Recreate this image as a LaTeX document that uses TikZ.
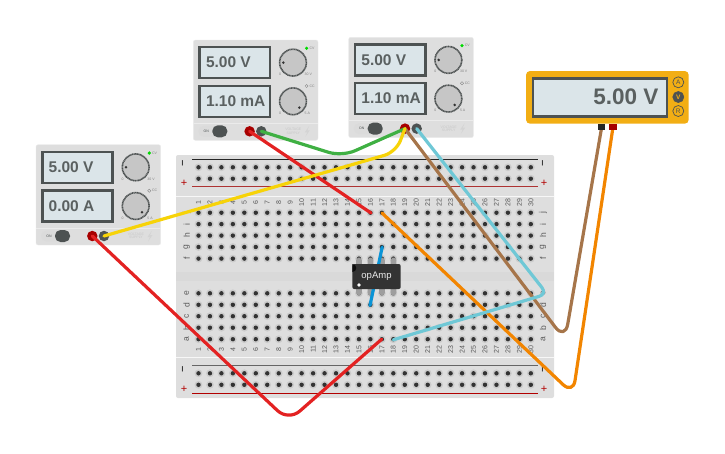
\documentclass[tikz,border=0pt]{standalone}
\usepackage{fontspec}
\setmainfont{Liberation Sans}
\newfontfamily\lcdfont{Liberation Sans Bold}
\definecolor{panel}{HTML}{DEDEDE}
\definecolor{lcd}{HTML}{DBE5E9}
\definecolor{dark}{HTML}{4D5252}
\definecolor{lcdink}{HTML}{5A6060}
\definecolor{halo}{HTML}{CBCBCB}
\definecolor{hole}{HTML}{333333}
\definecolor{knobfill}{HTML}{C6C6C6}
\definecolor{wred}{HTML}{E32222}
\definecolor{wyellow}{HTML}{F7D308}
\definecolor{wgreen}{HTML}{3FB043}
\definecolor{wbrown}{HTML}{A6754A}
\definecolor{wcyan}{HTML}{6FC8D6}
\definecolor{worange}{HTML}{F28500}
\definecolor{wblue}{HTML}{0A94D6}
\definecolor{amber}{HTML}{F2AE14}
\tikzset{
  wire/.style={line width=3.2pt,line cap=round,line join=round},
  lcdbox/.style={draw=dark,line width=2.6pt,fill=lcd,minimum width=70.5pt,minimum height=31pt,inner sep=0pt},
  lcdtext/.style={text=lcdink,font=\lcdfont\fontsize{15.5}{16}\selectfont,inner sep=0pt,anchor=west},
  tiny/.style={text=gray,font=\fontsize{3.5}{4}\selectfont,inner sep=0pt},
  terminal/.style={circle,minimum size=10.5pt,inner sep=0pt},
  blab/.style={text=black!65,font=\fontsize{7}{7}\selectfont,inner sep=0pt,rotate=90},
  railsign/.style={inner sep=0pt,font=\fontsize{11}{11}\selectfont},
  pin/.style={fill=black!38},
}
\newcommand{\knob}[4]{% x y dotx doty
  \fill[knobfill] (#1,#2) circle (13.8);
  \draw[dark,line width=1.6pt,dash pattern=on 1.1pt off .5pt] (#1,#2) circle (13.4);
  \fill[hole] (#3,#4) circle (1.4);
}
\newcommand{\supply}[4]{% name dx dy second-line
  \begin{scope}[shift={(#2,#3)}]
    \fill[panel,rounded corners=2pt,draw=black!8] (36,144.7) rectangle (160.7,245);
    \draw[black!8,line width=.7pt] (36,228) -- (160.7,228);
    \node[lcdbox] (#1a) at (77.5,167.3) {};
    \node[lcdbox] (#1b) at (77.5,206) {};
    \node[lcdtext] (#1at) at (48.5,167.3) {5.00 V};
    \node[lcdtext] (#1bt) at (48.5,206) {#4};
    \knob{135.7}{167.3}{126}{167.3}
    \knob{135.7}{206}{142}{212.3}
    \node[tiny] (#1t0) at (122.7,179) {0};
    \node[tiny] (#1t1) at (151,179) {30 V};
    \node[tiny] (#1t2) at (122.7,218) {0};
    \node[tiny] (#1t3) at (150,218) {5 A};
    \fill[green!85!black] (149.3,153) circle (1.8);
    \node[tiny,anchor=west] (#1t4) at (152,153) {CV};
    \draw[gray,line width=.35pt] (149.3,190.7) circle (1.6);
    \node[tiny,anchor=west] (#1t5) at (152,190.7) {CC};
    \fill[black!14,rounded corners=5.5pt] (41,230.5) rectangle (70,241.5);
    \node[tiny,text=dark] (#1on) at (49,236) {ON};
    \fill[dark,rounded corners=5.5pt] (55,230) rectangle (70,242);
    \node[terminal,fill=red!60!black!85!red] (#1p) at (92.3,236) {};
    \node[terminal,fill=dark] (#1n) at (104,236) {};
    \node[tiny,text=black!22,align=center] (#1vs) at (136,236) {VOLTAGE\\[-.5pt]SUPPLY};
    \fill[black!17] (152,230.5) -- (147.5,237) -- (150,237) -- (148,241.5) -- (152.5,235) -- (150,235) -- cycle;
  \end{scope}
}
\begin{document}
\begin{tikzpicture}[x=1pt,y=-1pt]
\useasboundingbox (0,0) rectangle (725,453);
% breadboard
\fill[panel,rounded corners=2pt] (176,155) rectangle (554,398);
\fill[black!15] (176,272) rectangle (554,281);
\draw[white!75!panel,line width=1pt] (176,196) -- (554,196);
\draw[white!75!panel,line width=1pt] (176,357) -- (554,357);
\draw[black!85,line width=1pt] (192,159.3) -- (538,159.3);
\draw[red!60!black!80!white,line width=1pt] (192,186.7) -- (538,186.7);
\draw[black!60,line width=1.2pt] (192,365.7) -- (538,365.7);
\draw[red!70!black,line width=1pt] (192,393.3) -- (538,393.3);
\foreach \yy in {167.3,178.7,212.7,224.1,235.6,247,258.6,293.3,304.8,316.2,327.7,339.2,373.3,384.8}{
  \foreach \c in {1,...,30}{
    \pgfmathsetmacro{\xx}{198.5+(\c-1)*11.46}
    \fill[halo] (\xx,\yy) circle (3.9);
    \fill[hole] (\xx,\yy) circle (2.2);
  }
}
\foreach \c in {1,...,30}{
  \pgfmathsetmacro{\xx}{198.5+(\c-1)*11.46}
  \node[blab] (ct\c) at (\xx,202.7) {\c};
  \node[blab] (cb\c) at (\xx,349.3) {\c};
}
\foreach \l/\yy in {j/212.7,i/224.1,h/235.6,g/247,f/258.6,e/293.3,d/304.8,c/316.2,b/327.7,a/339.2}{
  \node[blab,font=\fontsize{8.5}{8.5}\selectfont] (rl\l) at (186.7,\yy) {\l};
  \node[blab,font=\fontsize{8.5}{8.5}\selectfont] (rr\l) at (543,\yy) {\l};
}
\node[railsign,rotate=90] (s1) at (184,163.7) {\textminus};
\node[railsign,text=red!70!black] (s2) at (184,183.7) {+};
\node[railsign,rotate=90] (s3) at (544,163.7) {\textminus};
\node[railsign,text=red!70!black] (s4) at (544,183.7) {+};
\node[railsign,rotate=90] (s5) at (184,369.5) {\textminus};
\node[railsign,text=red!70!black] (s6) at (184,389) {+};
\node[railsign,rotate=90] (s7) at (544,369.5) {\textminus};
\node[railsign,text=red!70!black] (s8) at (544,389) {+};
% supplies
\supply{sa}{0}{0}{0.00 A}
\supply{sb}{157.3}{-104.7}{1.10 mA}
\supply{sc}{312.7}{-107.4}{1.10 mA}
% meter
\fill[amber,rounded corners=4pt] (526,71) rectangle (688.7,123.7);
\node[draw=dark,line width=2.4pt,fill=lcd,minimum width=134pt,minimum height=38pt,inner sep=0pt] (mlcd) at (599.7,97.3) {};
\node[text=lcdink,font=\lcdfont\fontsize{22.5}{23}\selectfont,inner sep=0pt,anchor=east] (mtext) at (658.5,97) {5.00 V};
\node[circle,draw=dark,line width=.7pt,minimum size=11pt,inner sep=0pt,text=dark,font=\fontsize{6.5}{7}\selectfont] (ba) at (678.3,82.3) {A};
\node[circle,fill=dark,draw=dark,line width=.7pt,minimum size=11pt,inner sep=0pt,text=amber,font=\fontsize{6.5}{7}\bfseries\selectfont] (bv) at (678.3,97) {V};
\node[circle,draw=dark,line width=.7pt,minimum size=11pt,inner sep=0pt,text=dark,font=\fontsize{6.5}{7}\selectfont] (br) at (678.3,111) {R};
% chip
\foreach \xx in {359,370.5,382,393.5}{
  \fill[pin] (\xx-2.8,264) -- (\xx-2.8,260) -- (\xx-1,257.5) -- (\xx+1,257.5) -- (\xx+2.8,260) -- (\xx+2.8,264) -- cycle;
  \fill[pin] (\xx-2.8,289) -- (\xx-2.8,293) -- (\xx-1,295.5) -- (\xx+1,295.5) -- (\xx+2.8,293) -- (\xx+2.8,289) -- cycle;
}
% named wire ends
\coordinate (h16j) at (371,213);
\coordinate (h17j) at (382,213);
\coordinate (h17a) at (381.7,339.2);
\coordinate (h18a) at (393.3,339.8);
\coordinate (h17g) at (382.2,247);
\coordinate (h16d) at (370,305.5);
\coordinate (cgreen) at (342,156.5);
\coordinate (cyellow) at (396,152);
\coordinate (cbrown) at (565,340);
\coordinate (ccyan) at (547,294);
\coordinate (cred) at (288.5,421);
\coordinate (corange) at (573,394);
\node[inner sep=0pt,minimum size=0pt] (mn) at (601.7,127) {};
\node[inner sep=0pt,minimum size=0pt] (mp) at (613,127) {};
% wires
\draw[wire,wblue] (h17g) -- (h16d);
\node[fill=black!80,rounded corners=2pt,minimum width=48.4pt,minimum height=25pt,inner sep=0pt,text=white!92!black,font=\fontsize{9.5}{10}\selectfont] (chip) at (376.5,276.5) {opAmp};
\fill[black!95] (352.3,272) arc (-90:90:4 and -4) -- cycle;
\fill[white] (359,285) circle (1.9);
\draw[wire,wred] (sbp.center) -- (h16j);
\draw[wire,worange,rounded corners=13.5pt] (h17j) -- (corange) -- (mp.center);
\draw[wire,wbrown,rounded corners=16pt] (scp.center) -- (cbrown) -- (mn.center);
\draw[wire,wcyan,rounded corners=8pt] (scn.center) -- (ccyan) -- (h18a);
\draw[wire,wgreen,rounded corners=14pt] (sbn.center) -- (cgreen) -- (scp.center);
\draw[wire,wyellow,rounded corners=12pt] (san.center) -- (cyellow) -- (scp.center);
\draw[wire,wred,rounded corners=15pt] (sap.center) -- (cred) -- (h17a);
% meter terminals
\fill[black!85] (598,123.7) rectangle (605.4,130);
\fill[red!65!black] (609.3,123.7) rectangle (616.7,130);
\end{tikzpicture}
\end{document}
